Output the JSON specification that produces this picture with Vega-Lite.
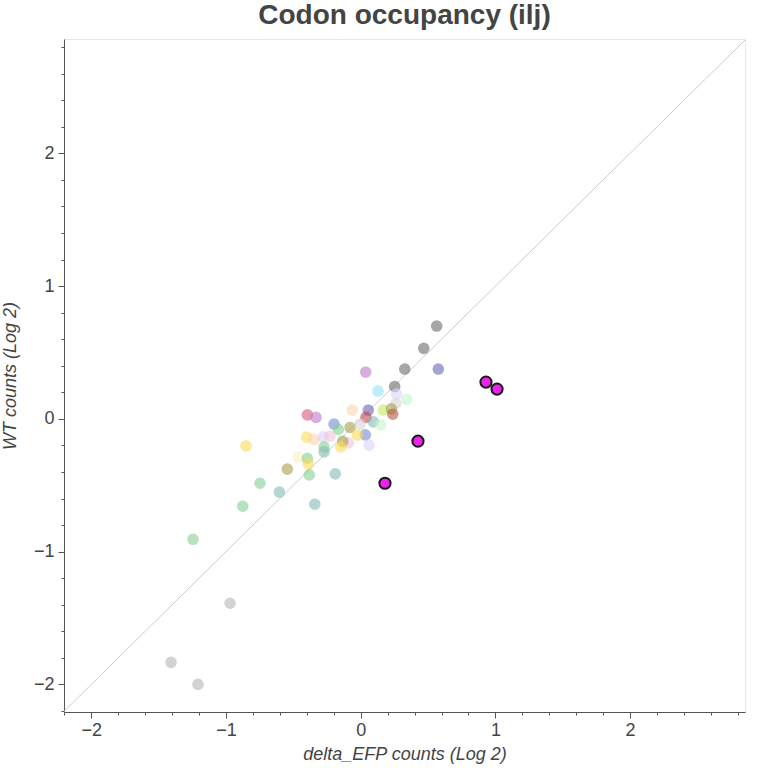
{
  "$schema": "https://vega.github.io/schema/vega-lite/v6.json",
  "autosize": "none",
  "width": 681,
  "height": 673,
  "padding": {"left": 64, "top": 39, "right": 23, "bottom": 56},
  "background": "white",
  "title": {
    "text": "Codon occupancy (ilj)",
    "fontSize": 28,
    "fontWeight": "bold",
    "font": "Liberation Sans",
    "color": "#444444",
    "anchor": "middle",
    "offset": 8
  },
  "config": {
    "view": {"stroke": "#e6e6e6", "strokeWidth": 1},
    "axis": {
      "grid": false,
      "labelFont": "Liberation Sans",
      "labelFontSize": 18,
      "labelColor": "#444444",
      "labelOverlap": false,
      "labelBound": false,
      "titleFont": "Liberation Sans",
      "titleFontSize": 18,
      "titleFontStyle": "italic",
      "titleFontWeight": "normal",
      "titleColor": "#444444",
      "domainColor": "#555555",
      "tickColor": "#555555",
      "format": ".0f",
      "labelExpr": "abs(datum.value - round(datum.value)) < 0.001 ? datum.label : ''",
      "tickSize": {"condition": {"test": "abs(datum.value - round(datum.value)) < 0.001", "value": 6}, "value": 3}
    }
  },
  "datasets": {
    "diag": [{"delta_efp": -3, "wt": -3}, {"delta_efp": 3, "wt": 3}],
    "codons": [
      {"aa": "Pro", "delta_efp": 0.564, "wt": 0.699},
      {"aa": "Pro", "delta_efp": 0.468, "wt": 0.531},
      {"aa": "Pro", "delta_efp": 0.327, "wt": 0.375},
      {"aa": "Pro", "delta_efp": 0.252, "wt": 0.244},
      {"aa": "Glu", "delta_efp": 0.576, "wt": 0.375},
      {"aa": "Ser", "delta_efp": 0.037, "wt": 0.352},
      {"aa": "Asn", "delta_efp": 0.128, "wt": 0.209},
      {"aa": "His", "delta_efp": 0.267, "wt": 0.186},
      {"aa": "Lys", "delta_efp": 0.341, "wt": 0.146},
      {"aa": "Cys", "delta_efp": 0.26, "wt": 0.116},
      {"aa": "Met", "delta_efp": 0.168, "wt": 0.066},
      {"aa": "Ile", "delta_efp": 0.227, "wt": 0.075},
      {"aa": "Arg", "delta_efp": 0.238, "wt": 0.035},
      {"aa": "Gln", "delta_efp": -0.062, "wt": 0.066},
      {"aa": "Glu", "delta_efp": 0.056, "wt": 0.066},
      {"aa": "Trp", "delta_efp": 0.039, "wt": 0.011},
      {"aa": "Thr", "delta_efp": -0.396, "wt": 0.03},
      {"aa": "Ser", "delta_efp": -0.332, "wt": 0.011},
      {"aa": "Asp", "delta_efp": -0.198, "wt": -0.04},
      {"aa": "Ala", "delta_efp": -0.166, "wt": -0.08},
      {"aa": "Ile", "delta_efp": -0.079, "wt": -0.065},
      {"aa": "Cys", "delta_efp": -0.005, "wt": -0.04},
      {"aa": "Val", "delta_efp": 0.094, "wt": -0.023},
      {"aa": "Lys", "delta_efp": 0.148, "wt": -0.045},
      {"aa": "Asp", "delta_efp": 0.034, "wt": -0.121},
      {"aa": "Leu", "delta_efp": -0.025, "wt": -0.123},
      {"aa": "His", "delta_efp": 0.062, "wt": -0.198},
      {"aa": "Leu", "delta_efp": -0.401, "wt": -0.138},
      {"aa": "Gln", "delta_efp": -0.347, "wt": -0.155},
      {"aa": "His", "delta_efp": -0.278, "wt": -0.136},
      {"aa": "Tyr", "delta_efp": -0.228, "wt": -0.13},
      {"aa": "Tyr", "delta_efp": -0.092, "wt": -0.181},
      {"aa": "Ile", "delta_efp": -0.134, "wt": -0.17},
      {"aa": "Leu", "delta_efp": -0.148, "wt": -0.211},
      {"aa": "Leu", "delta_efp": -0.852, "wt": -0.203},
      {"aa": "Phe", "delta_efp": -0.463, "wt": -0.286},
      {"aa": "Ala", "delta_efp": -0.396, "wt": -0.298},
      {"aa": "Leu", "delta_efp": -0.389, "wt": -0.341},
      {"aa": "Ala", "delta_efp": -0.272, "wt": -0.211},
      {"aa": "Val", "delta_efp": -0.272, "wt": -0.249},
      {"aa": "Ile", "delta_efp": -0.545, "wt": -0.379},
      {"aa": "Ala", "delta_efp": -0.382, "wt": -0.422},
      {"aa": "Val", "delta_efp": -0.189, "wt": -0.414},
      {"aa": "Ala", "delta_efp": -0.748, "wt": -0.485},
      {"aa": "Val", "delta_efp": -0.604, "wt": -0.552},
      {"aa": "Val", "delta_efp": -0.341, "wt": -0.643},
      {"aa": "Ala", "delta_efp": -0.876, "wt": -0.658},
      {"aa": "Ala", "delta_efp": -1.245, "wt": -0.907},
      {"aa": "Gly", "delta_efp": -0.97, "wt": -1.389},
      {"aa": "Gly", "delta_efp": -1.408, "wt": -1.834},
      {"aa": "Gly", "delta_efp": -1.208, "wt": -2.0}
    ],
    "stalls": [
      {"codon": "ilj-1", "delta_efp": 0.93, "wt": 0.277},
      {"codon": "ilj-2", "delta_efp": 1.012, "wt": 0.224},
      {"codon": "ilj-3", "delta_efp": 0.425, "wt": -0.168},
      {"codon": "ilj-4", "delta_efp": 0.18, "wt": -0.485}
    ]
  },
  "encoding": {
    "x": {
      "field": "delta_efp", "type": "quantitative",
      "scale": {"domain": [-2.203, 2.853], "nice": false, "zero": false},
      "axis": {
        "values": [-2.2, -2, -1.8, -1.6, -1.4, -1.2, -1, -0.8, -0.6, -0.4, -0.2, 0, 0.2, 0.4, 0.6, 0.8, 1, 1.2, 1.4, 1.6, 1.8, 2, 2.2, 2.4, 2.6, 2.8],
        "labelPadding": 3,
        "title": "delta_EFP counts (Log 2)",
        "titlePadding": 6
      }
    },
    "y": {
      "field": "wt", "type": "quantitative",
      "scale": {"domain": [-2.208, 2.861], "nice": false, "zero": false},
      "axis": {
        "values": [-2.2, -2, -1.8, -1.6, -1.4, -1.2, -1, -0.8, -0.6, -0.4, -0.2, 0, 0.2, 0.4, 0.6, 0.8, 1, 1.2, 1.4, 1.6, 1.8, 2, 2.2, 2.4, 2.6, 2.8],
        "labelPadding": 4,
        "title": "WT counts (Log 2)",
        "titlePadding": 14
      }
    }
  },
  "layer": [
    {
      "data": {"name": "diag"},
      "mark": {"type": "line", "clip": true, "color": "#cccccc", "strokeWidth": 1}
    },
    {
      "data": {"name": "codons"},
      "mark": {"type": "circle", "size": 135, "opacity": 0.6},
      "encoding": {
        "color": {
          "field": "aa", "type": "nominal", "legend": null,
          "scale": {
            "domain": ["Pro", "Gly", "Ala", "Val", "Leu", "Ile", "Ser", "Thr", "Asp", "Glu", "Asn", "Gln", "His", "Lys", "Arg", "Met", "Phe", "Tyr", "Cys", "Trp"],
            "range": ["#6b6b6b", "#b6b6b6", "#84d091", "#84bbb6", "#fcda57", "#a89e4e", "#be78cb", "#dc577b", "#7189d5", "#6767b7", "#91e3f7", "#fcd5b1", "#ded0f8", "#c6f5d0", "#b65741", "#c5e66e", "#fcf2c1", "#f0c5d2", "#d5d5d5", "#c6444e"]
          }
        }
      }
    },
    {
      "data": {"name": "stalls"},
      "mark": {"type": "circle", "size": 125, "opacity": 1, "fill": "#ee22ee", "stroke": "#1a1a1a", "strokeWidth": 2}
    }
  ]
}
